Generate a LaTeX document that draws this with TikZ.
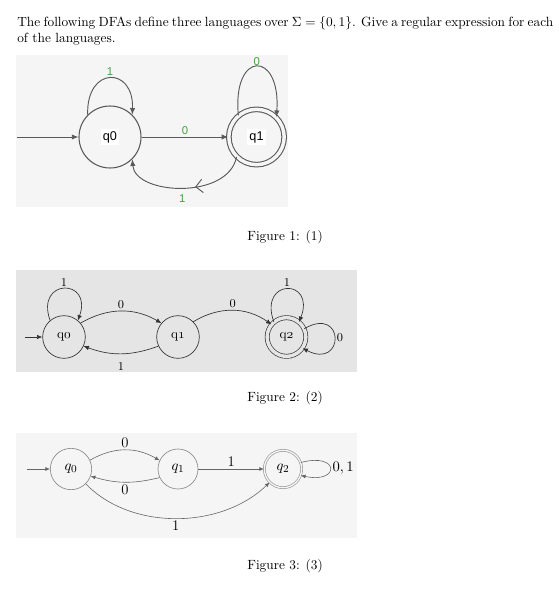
\documentclass[tikz,border=0pt]{standalone}
\usepackage{amsmath}
\usepackage{amssymb}
\usepackage{fontspec}
\usepackage{tikz}
\usetikzlibrary{arrows.meta,decorations.markings}
\newfontfamily\arialfont{Liberation Sans}
\definecolor{lblgreen}{RGB}{70,160,70}
\setlength{\fboxsep}{1.5pt}
\newcommand{\osnum}[1]{{\usefont{OML}{cmm}{m}{it}#1}}

\begin{document}
\begin{tikzpicture}[x=0.75pt,y=-0.75pt,
    stateA/.style={circle,draw=black!65,line width=0.8pt,minimum size=46.5pt,inner sep=0pt,font=\arialfont\fontsize{9.5}{11}\selectfont},
    labA/.style={text=lblgreen,font=\arialfont\fontsize{8.5}{10}\selectfont,inner sep=1.5pt},
    edgeA/.style={draw=black!65,line width=0.7pt,-{Latex[length=5pt,width=4pt]}},
    stateB/.style={circle,draw=black!80,line width=0.5pt,minimum size=32pt,inner sep=0pt,font=\fontsize{10}{12}\selectfont},
    labB/.style={font=\fontsize{9}{11}\selectfont,inner sep=1.5pt},
    edgeB/.style={draw=black!80,line width=0.5pt,-{Latex[length=4pt,width=3.5pt]}},
    stateC/.style={circle,draw=black!45,line width=0.5pt,minimum size=31pt,inner sep=0pt,font=\fontsize{11}{13}\selectfont},
    labC/.style={font=\fontsize{11}{13}\selectfont,inner sep=1.5pt},
    edgeC/.style={draw=black!60,line width=0.45pt,-{Latex[length=3.5pt,width=3pt]}},
    capnode/.style={font=\fontsize{10}{12}\selectfont,inner sep=0pt}]
    \useasboundingbox (0,0) rectangle (558,589);
    \fill[white] (0,0) rectangle (558,589);
    \fill[gray!8] (16,55) rectangle (288,207);
    \fill[gray!20] (16,270) rectangle (357,372);
    \fill[gray!8] (16,433) rectangle (357,538);

    \node[anchor=north west,text width=402pt,align=justify,inner sep=0pt] (intro) at (17,16)
      {The following DFAs define three languages over $\Sigma=\{0,1\}$. Give a regular expression for each\linebreak of the languages.};

    \node[stateA] (a0) at (110,137) {\colorbox{white}{q0}};
    \node[stateA,double=gray!8,double distance=2.6pt,minimum size=41.5pt] (a1) at (256.5,137) {\colorbox{white}{q1}};
    \coordinate (a0in) at (17,137);
    \draw[edgeA] (a0in) -- (a0);
    \draw[edgeA] (a0) -- node[labA,above] {0} (a1);
    \draw[edgeA] (a0.135) .. controls (86,66) and (134,66) .. node[labA,above] {1} (a0.45);
    \draw[edgeA] (a1.130) .. controls (232,50) and (281,50) .. node[labA,above=-1pt] {0} (a1.45);
    \draw[edgeA,postaction={decorate},decoration={markings,mark=at position 0.42 with {\arrow{Straight Barb[length=5pt,width=10pt]}}}]
      (a1.225) .. controls (228,200) and (135,195) .. node[labA,below=3.5pt] {1} (a0.-45);

    \node[stateB] (b0) at (64,337) {q\osnum{0}};
    \node[stateB] (b1) at (178,337) {q\osnum{1}};
    \node[stateB,double=gray!20,double distance=2.6pt,minimum size=29pt] (b2) at (286.5,337) {q\osnum{2}};
    \coordinate (b0in) at (25,337);
    \draw[edgeB] (b0in) -- (b0);
    \draw[edgeB] (b0.130) .. controls (35,278) and (93,278) .. node[labB,above] {1} (b0.50);
    \draw[edgeB] (b0.40) to[bend left=30] node[labB,above] {0} (b1.140);
    \draw[edgeB] (b1.205) to[bend left=20] node[labB,below=5pt] {1} (b0.-25);
    \draw[edgeB] (b1.45) to[bend left=33] node[labB,above] {0} (b2.140);
    \draw[edgeB] (b2.130) .. controls (258,278) and (316,278) .. node[labB,above] {1} (b2.50);
    \draw[edgeB] (b2.25) .. controls (345,305) and (345,370) .. node[labB,right] {0} (b2.-35);

    \node[stateC] (c0) at (71,469) {$q_0$};
    \node[stateC,minimum size=30pt] (c1) at (178,469) {$q_1$};
    \node[stateC,draw=black!40,double=gray!8,double distance=1pt,minimum size=28pt] (c2) at (283,469) {$q_2$};
    \coordinate (c0in) at (27,469);
    \draw[edgeC] (c0in) -- (c0);
    \draw[edgeC] (c0.25) to[bend left=30] node[labC,above] {0} (c1.155);
    \draw[edgeC] (c1.205) to[bend left=15] node[labC,below] {0} (c0.-20);
    \draw[edgeC] (c1) -- node[labC,above] {1} (c2);
    \draw[edgeC] (c0.-45) .. controls (130,530) and (220,530) .. node[labC,below] {1} (c2.225);
    \draw[edgeC] (c2.20) .. controls (340,452) and (340,484) .. node[labC,right] {$0,1$} (c2.-20);

    \foreach \i/\yy in {1/237,2/398,3/566}
      \node[capnode] (cap\i) at (285,\yy) {Figure \i: (\i)};
\end{tikzpicture}
\end{document}
